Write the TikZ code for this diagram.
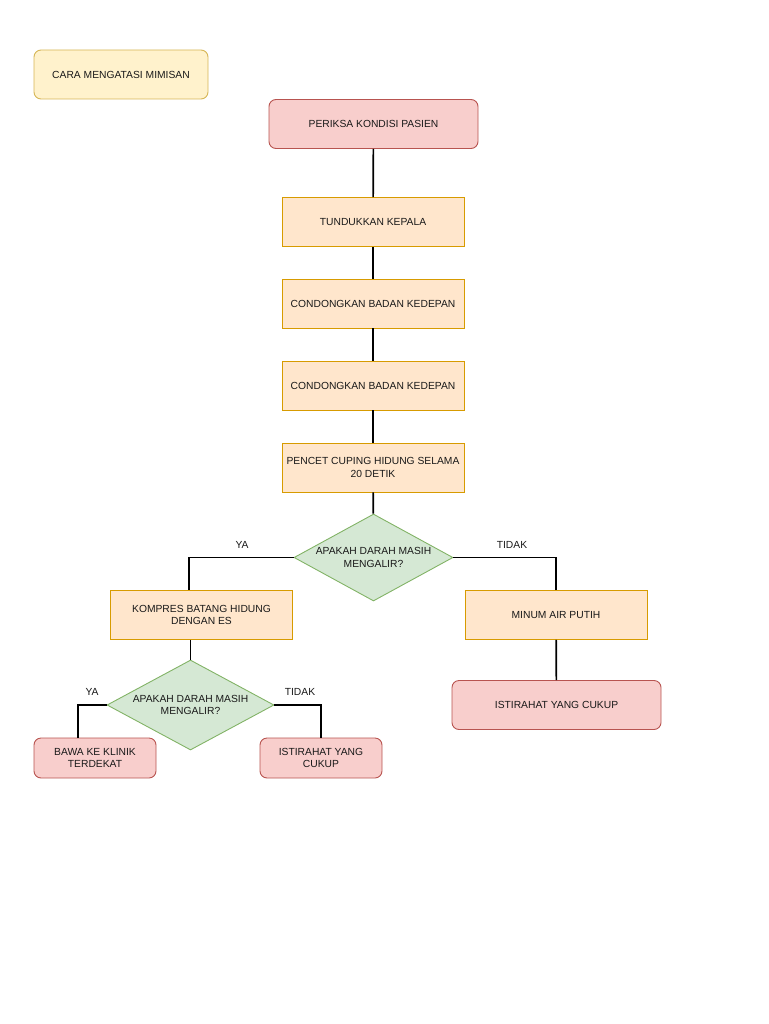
\documentclass[tikz,border=0pt]{standalone}
\usepackage{fontspec}
\setmainfont{Liberation Sans}
\usepackage{xcolor}
\usetikzlibrary{shapes.geometric}
\definecolor{orangefill}{HTML}{FFE6CC}
\definecolor{orangeline}{HTML}{D79B00}
\definecolor{redfill}{HTML}{F8CECC}
\definecolor{redline}{HTML}{B85450}
\definecolor{greenfill}{HTML}{D5E8D4}
\definecolor{greenline}{HTML}{82B366}
\definecolor{yellowfill}{HTML}{FFF2CC}
\definecolor{yellowline}{HTML}{D6B656}
\tikzset{
    every node/.style={font=\fontsize{10.3}{12.4}\selectfont,text=black!90},
    procbox/.style={rectangle,draw=orangeline,fill=orangefill,line width=0.9pt,minimum width=182pt,minimum height=49pt,inner sep=0pt,align=center},
    endbox/.style={rectangle,rounded corners=7pt,draw=redline,fill=redfill,line width=0.9pt,minimum width=209pt,minimum height=49pt,inner sep=0pt,align=center},
    smallend/.style={endbox,minimum width=122pt,minimum height=40pt},
    titlebox/.style={rectangle,rounded corners=7pt,draw=yellowline,fill=yellowfill,line width=0.9pt,minimum width=174pt,minimum height=49pt,inner sep=0pt},
    decision/.style={diamond,draw=greenline,fill=greenfill,line width=0.9pt,inner sep=0pt},
    edgelabel/.style={inner sep=0pt},
    link/.style={line width=1.7pt},
    branch/.style={line width=1.1pt},
    }
\begin{document}
\begin{tikzpicture}[x=1pt,y=-1pt]
    \useasboundingbox (0,0) rectangle (768,1024);
        \node[titlebox] (title) at (121,74.5) {CARA MENGATASI MIMISAN};

        \node[endbox] (periksa) at (373.5,124) {PERIKSA KONDISI PASIEN};
        \node[procbox] (tunduk) at (373,222) {TUNDUKKAN KEPALA};
        \node[procbox] (condongA) at (373,303.5) {CONDONGKAN BADAN KEDEPAN};
        \node[procbox] (condongB) at (373,385.5) {CONDONGKAN BADAN KEDEPAN};
        \node[procbox] (pencet) at (373,467.5) {PENCET CUPING HIDUNG SELAMA\\20 DETIK};
        \node[decision,minimum width=159pt,minimum height=87pt,
              label={[align=center]center:APAKAH DARAH MASIH\\MENGALIR?}] (tanyaA) at (373.5,557.5) {};

        \node[procbox] (kompres) at (201.5,615) {KOMPRES BATANG HIDUNG\\DENGAN ES};
        \node[procbox] (minum) at (556,615) {MINUM AIR PUTIH};
        \node[endbox] (rehatA) at (556.5,705) {ISTIRAHAT YANG CUKUP};

        \node[decision,minimum width=167pt,minimum height=90pt,
              label={[align=center]center:APAKAH DARAH MASIH\\MENGALIR?}] (tanyaB) at (190.5,705) {};
        \node[smallend] (klinik) at (95,758) {BAWA KE KLINIK\\TERDEKAT};
        \node[smallend] (rehatB) at (321,758) {ISTIRAHAT YANG\\CUKUP};

        \coordinate (kompresIn) at (189,590);
        \coordinate (klinikIn) at (78,738);

        \node[edgelabel] (yaA) at (242,545) {YA};
        \node[edgelabel] (tidakA) at (512,545) {TIDAK};
        \node[edgelabel] (yaB) at (92,692) {YA};
        \node[edgelabel] (tidakB) at (300,692) {TIDAK};

    \draw[link] (periksa) to (tunduk);
    \draw[link] (tunduk) to (condongA);
    \draw[link] (condongA) to (condongB);
    \draw[link] (condongB) to (pencet);
    \draw[link] (pencet) to (tanyaA);
    \draw[link] (minum) to (rehatA);
    \draw[link] (tanyaB.north |- kompres.south) to (tanyaB.north);

    \draw[branch] (tanyaA.west) -| (kompresIn);
    \draw[branch] (tanyaA.east) -| (minum.north);
    \draw[branch] (tanyaB.west) -| (klinikIn);
    \draw[branch] (tanyaB.east) -| (rehatB.north);
\end{tikzpicture}
\end{document}
